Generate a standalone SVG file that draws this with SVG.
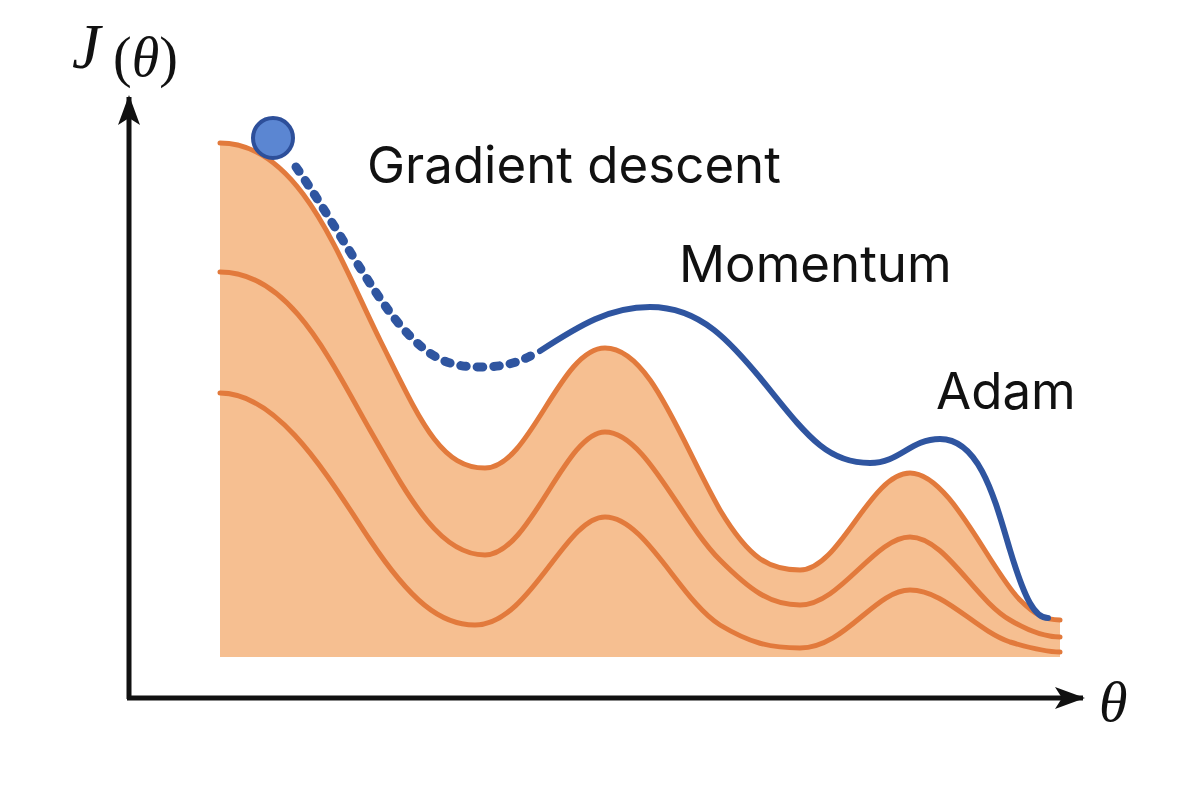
<svg xmlns="http://www.w3.org/2000/svg" width="1200" height="800" viewBox="0 0 1200 800">
<style>
.lvl{fill:none;stroke:#e27a3c;stroke-width:5;stroke-linecap:round}
.path{fill:none;stroke:#2f55a0;stroke-width:6;stroke-linecap:round}
.lbl{font-family:"Inter","Liberation Sans",sans-serif;font-size:51px;fill:#111}
.math{font-family:"Liberation Serif","DejaVu Serif",serif;font-style:italic;fill:#111}
</style>
<defs>
<marker id="ah" viewBox="0 0 30 22" refX="28" refY="11" markerWidth="30" markerHeight="22" markerUnits="userSpaceOnUse" orient="auto">
<path d="M0,0 L30,11 L0,22 L7,11 Z" fill="#111"/>
</marker>
</defs>
<rect width="1200" height="800" fill="#fff"/>
<g id="surface">
<path d="M220,143 C300,143 340,260 380,340 C420,420 440,468 485,468 C530,468 560,348 605,348 C650,348 680,440 720,510 C750,560 770,570 800,570 C840,570 870,473 910,473 C950,473 990,570 1020,600 C1035,615 1045,620 1060,620 L1060,657 L220,657 Z" fill="#f6bf91"/>
<path class="lvl" d="M220,143 C300,143 340,260 380,340 C420,420 440,468 485,468 C530,468 560,348 605,348 C650,348 680,440 720,510 C750,560 770,570 800,570 C840,570 870,473 910,473 C950,473 990,570 1020,600 C1035,615 1045,620 1060,620"/>
<path class="lvl" d="M220,272 C290,272 330,360 370,430 C410,500 440,555 485,555 C530,555 565,432 605,432 C645,432 680,520 720,560 C750,590 770,605 800,605 C840,605 875,537 910,537 C945,537 975,600 1010,620 C1030,632 1045,637 1060,637"/>
<path class="lvl" d="M220,393 C280,393 330,480 370,540 C410,600 440,625 475,625 C530,625 565,517 605,517 C645,517 680,600 720,625 C750,643 770,648 800,648 C845,648 875,590 910,590 C945,590 975,630 1010,642 C1030,648 1045,652 1060,652"/>
</g>
<g id="axes">
<line x1="129" y1="699" x2="129" y2="97" stroke="#111" stroke-width="5" marker-end="url(#ah)"/>
<line x1="127" y1="698" x2="1083" y2="698" stroke="#111" stroke-width="5" marker-end="url(#ah)"/>
</g>
<g id="connectors">
<path d="M296,167 C330,215 370,290 400,325 C430,360 450,367 481,367 C505,367 520,362 536,353" fill="none" stroke="#2f55a0" stroke-width="9" stroke-linecap="round" stroke-dasharray="5.5 11"/>
<path class="path" d="M540,351 C580,325 610,307 650,307 C700,307 730,340 770,390 C810,440 830,463 870,463 C900,463 910,439 940,439 C980,439 995,500 1010,550 C1025,600 1035,618 1048,618"/>
</g>
<g id="ball">
<circle cx="273" cy="138" r="20" fill="#5b86d2" stroke="#2d4f9a" stroke-width="4"/>
</g>
<g id="labels">
<text class="lbl" x="367" y="183">Gradient descent</text>
<text class="lbl" x="679" y="282">Momentum</text>
<text class="lbl" x="936" y="409">Adam</text>
<text class="math" x="72" y="68" font-size="64">J</text>
<text x="113" y="76" font-size="56" font-family="Liberation Serif,DejaVu Serif,serif" fill="#111">(<tspan font-style="italic">θ</tspan>)</text>
<text class="math" x="1099" y="721" font-size="58">θ</text>
</g>
</svg>
